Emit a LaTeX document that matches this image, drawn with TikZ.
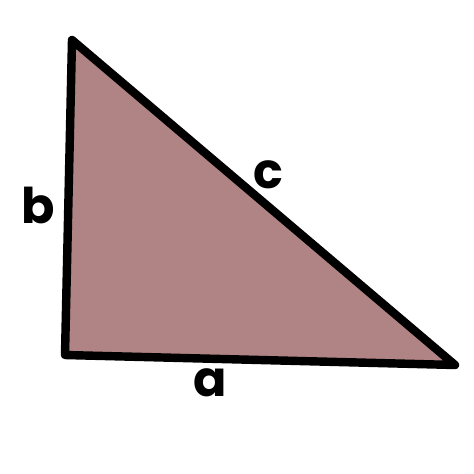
\documentclass[tikz,border=0pt]{standalone}
\usepackage{fontspec}
\setmainfont{Poppins}
\definecolor{mauve}{RGB}{176,132,132}

\begin{document}
\begin{tikzpicture}[
    sidelabel/.style={inner sep=0pt, font=\fontsize{14}{16}\selectfont\bfseries},
    ]
    \useasboundingbox (0,0) rectangle (4.74,-4.74);
    \coordinate (top) at (0.72,-0.40);
    \coordinate (left) at (0.65,-3.55);
    \coordinate (right) at (4.55,-3.65);

    \draw [line width=2.4pt, line join=round, fill=mauve] (top) -- (left) -- (right) -- cycle;

    \node [sidelabel] (b) at (0.38,-2.05) {b};
    \node [sidelabel] (c) at (2.68,-1.75) {c};
    \node [sidelabel] (a) at (2.10,-3.83) {a};
\end{tikzpicture}
\end{document}
